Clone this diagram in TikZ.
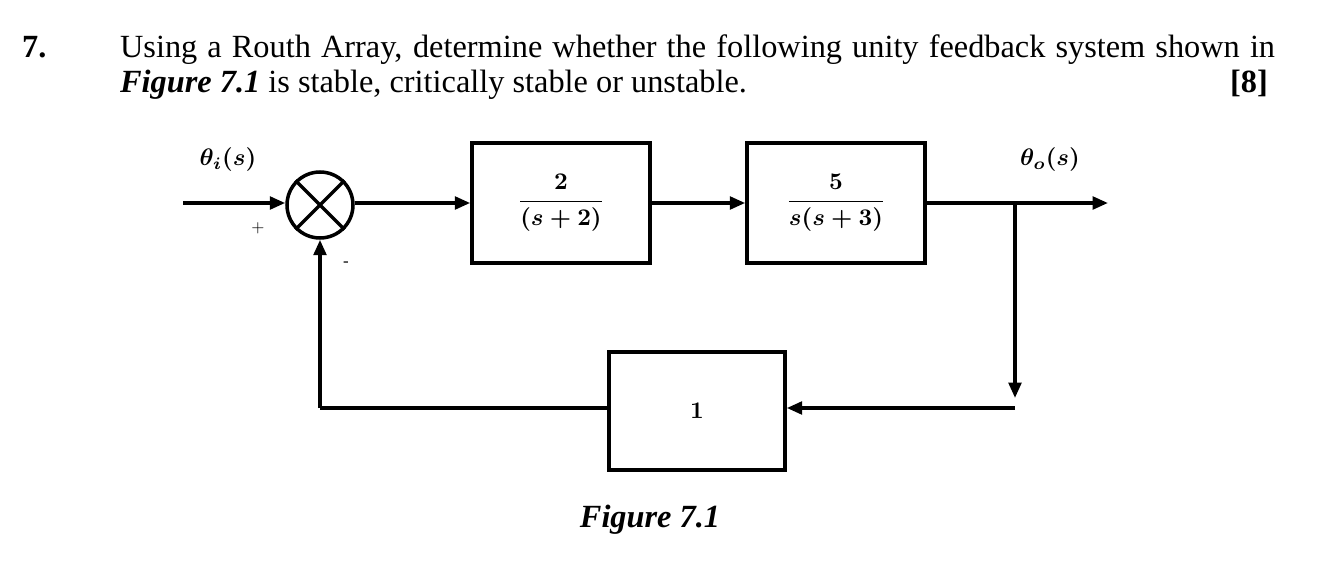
\documentclass[tikz,border=0pt]{standalone}
\usepackage{amsmath,bm}
\usepackage{fontspec}
\setmainfont{Liberation Serif}
\usetikzlibrary{arrows.meta}
\newcommand{\bigmth}[1]{\scalebox{3.4}{$\boldsymbol{#1}$}}
\begin{document}
\begin{tikzpicture}[x=0.05cm,y=-0.05cm,
  blk/.style={draw,line width=5pt,minimum width=8.9cm,minimum height=6cm,inner sep=0pt},
  ln/.style={line width=5pt},
  arr/.style={ln,-{Triangle[length=22pt,width=18pt]}},
  txt/.style={inner sep=0pt,font=\fontsize{46}{55}\selectfont},
  mth/.style={inner sep=0pt}]
\useasboundingbox (0,0) rectangle (1319,565);
\node[txt,anchor=base west] (n7) at (22,57) {\textbf{7.}};
\node[txt,anchor=base west] (l1) at (120,57) {\hbox to 57.75cm{Using a Routh Array, determine whether the following unity feedback system shown in}};
\node[txt,anchor=base west] (l2) at (120,92) {\textbf{\textit{Figure 7.1}} is stable, critically stable or unstable.};
\node[txt,anchor=base east] (mk) at (1268,92) {\textbf{[8]}};
\node[blk] (b1) at (561,203) {};
\node[mth] at (b1) {\bigmth{\dfrac{2}{(s+2)}}};
\node[blk] (b2) at (836,203) {};
\node[mth] at (b2) {\bigmth{\dfrac{5}{s(s+3)}}};
\node[blk,minimum width=8.8cm,minimum height=5.9cm] (b3) at (697,411) {};
\node[mth] at (b3) {\bigmth{1}};
\node[draw,circle,line width=5pt,minimum size=3.3cm,inner sep=0pt] (sum) at (320,205) {};
\draw[ln] (sum.45) -- (sum.225) (sum.135) -- (sum.315);
\coordinate (in) at (183,203);
\draw[arr] (in) -- (in -| sum.west);
\node[mth] (ti) at (228,160) {\bigmth{\theta_i(s)}};
\node[mth] (plus) at (258,228) {\scalebox{2.4}{$+$}};
\node[mth] (minus) at (346,264) {\scalebox{2.4}{-}};
\draw[arr] (sum.east |- b1.west) -- (b1.west);
\draw[arr] (b1.east) -- (b2.west);
\coordinate (out) at (1108,203);
\coordinate (br) at (1015,203);
\draw[arr] (b2.east) -- (out);
\node[mth] (to) at (1050,160) {\bigmth{\theta_o(s)}};
\coordinate (bd) at (1015,398);
\coordinate (bc) at (1015,408);
\draw[arr] (br) -- (bd);
\draw[arr] (bc) -- (b3.east |- bc);
\coordinate (fl) at (320,408);
\draw[ln] (b3.west |- fl) -- (fl);
\draw[arr] (fl) -- (sum.south);
\node[txt,anchor=base] (cap) at (650,527) {\textbf{\textit{Figure 7.1}}};
\end{tikzpicture}
\end{document}
